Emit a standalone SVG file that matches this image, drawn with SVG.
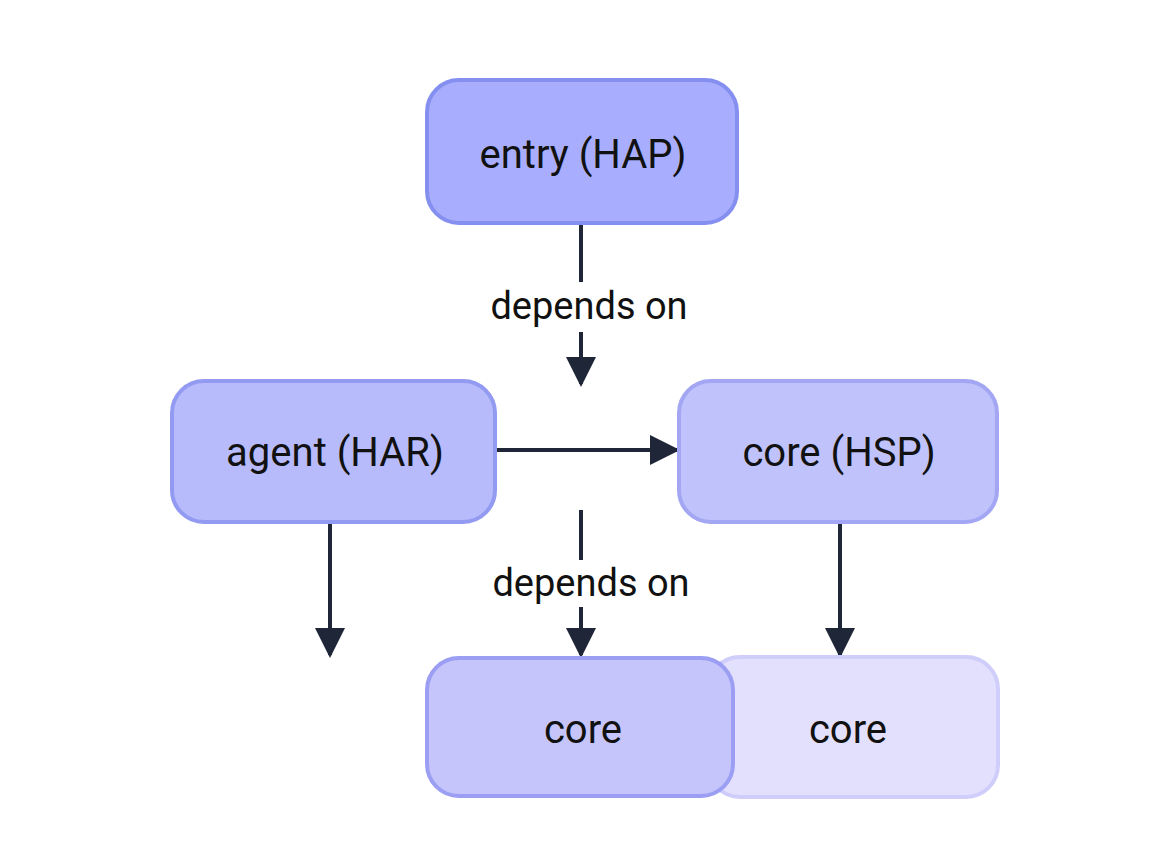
<svg xmlns="http://www.w3.org/2000/svg" width="1152" height="864" viewBox="0 0 1152 864">
<style>
text{font-family:Roboto,"Liberation Sans",sans-serif;font-size:40px;fill:#111;text-anchor:middle;dominant-baseline:central}
.lbl{font-size:38px}
.c{stroke:#1e2638;stroke-width:4;fill:none}
</style>
<defs><marker id="a" viewBox="0 0 10 10" refX="9" refY="5" markerWidth="7" markerHeight="7" orient="auto" markerUnits="userSpaceOnUse"><path d="M0,0L10,5L0,10z" fill="#1e2638"/></marker>
<marker id="b" viewBox="0 0 10 10" refX="9" refY="5" markerWidth="32" markerHeight="30" orient="auto" markerUnits="userSpaceOnUse"><path d="M0,0L10,5L0,10z" fill="#1e2638"/></marker></defs>
<rect width="1152" height="864" fill="#fff"/>
<g id="connectors">
<line class="c" x1="581" y1="225" x2="581" y2="282"/>
<line class="c" x1="581" y1="332" x2="581" y2="384" marker-end="url(#b)"/>
<line class="c" x1="497" y1="450" x2="677" y2="450" marker-end="url(#b)"/>
<line class="c" x1="330" y1="524" x2="330" y2="655" marker-end="url(#b)"/>
<line class="c" x1="581" y1="510" x2="581" y2="560"/>
<line class="c" x1="581" y1="607" x2="581" y2="655" marker-end="url(#b)"/>
<line class="c" x1="840" y1="524" x2="840" y2="655" marker-end="url(#b)"/>
<text class="lbl" x="589" y="306">depends on</text>
<text class="lbl" x="591" y="583">depends on</text>
</g>
<g id="core2"><rect x="708" y="657" width="290" height="140" rx="32" fill="#e2e0fd" stroke="#cfcdfa" stroke-width="4"/><text x="848" y="729">core</text></g>
<g id="core1"><rect x="427" y="658" width="306" height="138" rx="32" fill="#c5c5fb" stroke="#9b9ef3" stroke-width="4"/><text x="583" y="729">core</text></g>
<g id="entry"><rect x="427" y="80" width="310" height="143" rx="32" fill="#a8aefd" stroke="#858ff0" stroke-width="4"/><text x="583" y="154">entry (HAP)</text></g>
<g id="agent"><rect x="172" y="381" width="323" height="141" rx="32" fill="#b7bbfb" stroke="#939af1" stroke-width="4"/><text x="335" y="452">agent (HAR)</text></g>
<g id="coreHSP"><rect x="679" y="381" width="318" height="141" rx="32" fill="#c0c2fb" stroke="#a3a7f3" stroke-width="4"/><text x="839" y="452">core (HSP)</text></g>
</svg>
